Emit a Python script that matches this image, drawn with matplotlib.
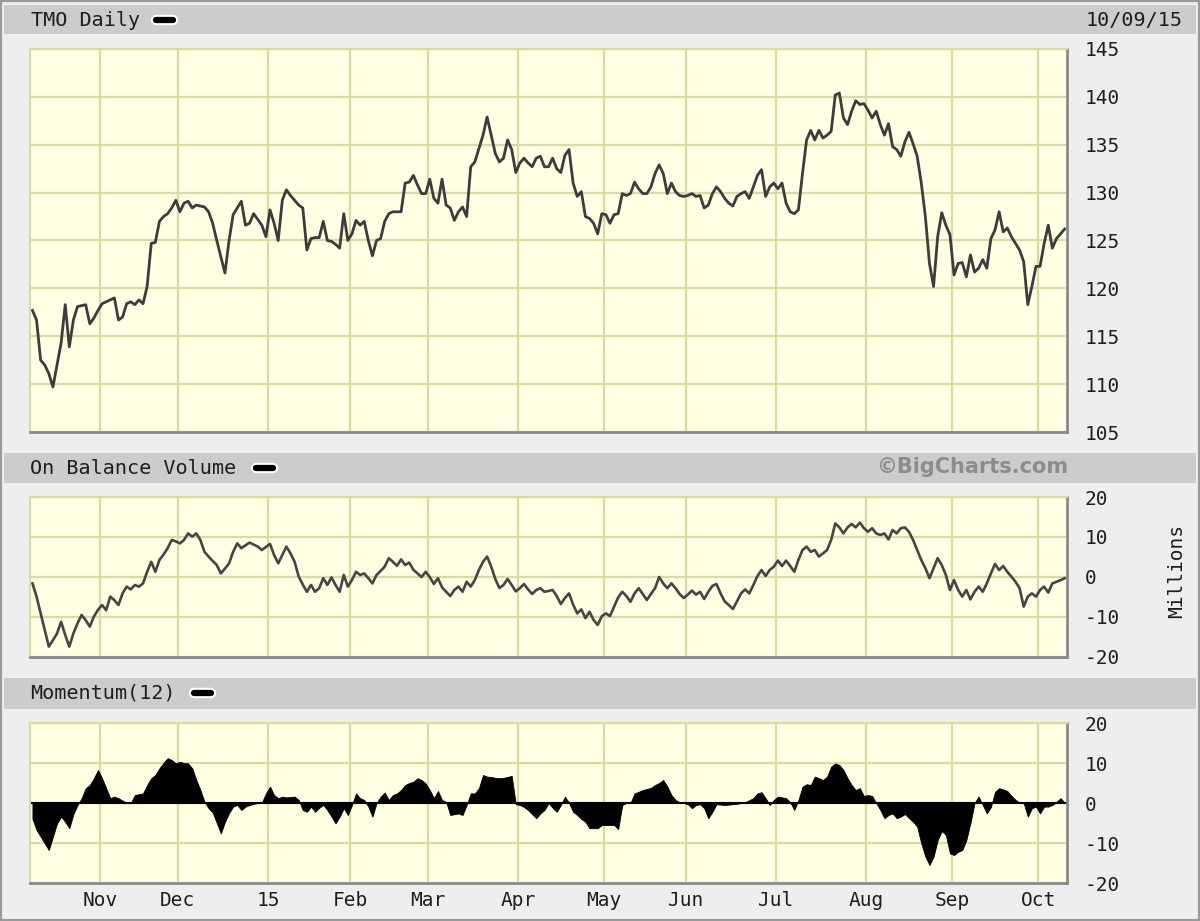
import numpy as np
import pandas as pd
import matplotlib
matplotlib.use("Agg")
import matplotlib.pyplot as plt
from matplotlib.lines import Line2D
from matplotlib.patches import Rectangle
import matplotlib.patheffects as pe

# ---------------- data ----------------
holidays = ["2014-11-27", "2014-12-25", "2015-01-01", "2015-01-19", "2015-02-16",
            "2015-04-03", "2015-05-25", "2015-07-03", "2015-09-07"]
start_date = "2014-10-09"
end_date = "2015-10-09"

price = [
    117.7, 116.7, 112.5, 112.0, 111.1, 109.7, 112.0, 114.3, 118.3, 113.9,
    116.7, 118.1, 118.2, 118.3, 116.3, 116.9, 117.7, 118.4, 118.6, 118.8,
    119.0, 116.7, 117.0, 118.4, 118.6, 118.3, 118.8, 118.4, 120.2, 124.7,
    124.8, 127.0, 127.5, 127.8, 128.4, 129.2, 128.0, 128.9, 129.1, 128.4,
    128.7, 128.6, 128.5, 128.0, 126.8, 125.0, 123.3, 121.6, 125.0, 127.7,
    128.4, 129.1, 126.6, 126.8, 127.8, 127.2, 126.6, 125.4, 128.2, 126.8,
    125.0, 129.2, 130.3, 129.7, 129.2, 128.7, 128.4, 124.0, 125.2, 125.3,
    125.3, 127.0, 125.0, 124.9, 124.6, 124.2, 127.8, 125.0, 125.7, 127.1,
    126.6, 127.0, 125.0, 123.4, 125.0, 125.2, 127.0, 127.8, 128.0, 128.0,
    128.0, 131.0, 131.1, 131.8, 130.8, 129.9, 129.9, 131.4, 129.4, 128.9,
    131.4, 128.7, 128.4, 127.1, 128.0, 128.5, 127.5, 132.7, 133.2, 134.6,
    136.0, 137.9, 136.0, 134.1, 133.2, 133.6, 135.5, 134.5, 132.1, 133.1,
    133.6, 133.1, 132.7, 133.6, 133.8, 132.7, 132.7, 133.6, 132.5, 132.1,
    133.9, 134.5, 131.0, 129.6, 130.1, 127.5, 127.3, 126.8, 125.7, 127.8,
    127.7, 126.8, 127.7, 127.8, 129.9, 129.7, 129.9, 131.1, 130.4, 129.9,
    129.9, 130.6, 132.0, 132.9, 132.0, 129.9, 131.0, 130.1, 129.7, 129.6,
    129.7, 129.9, 129.6, 129.7, 128.4, 128.7, 129.9, 130.6, 130.1, 129.4,
    128.9, 128.6, 129.6, 129.9, 130.1, 129.4, 130.6, 131.8, 132.4, 129.6,
    130.6, 131.0, 130.4, 131.0, 128.9, 128.0, 127.8, 128.2, 132.0, 135.5,
    136.5, 135.5, 136.5, 135.7, 136.0, 136.4, 140.2, 140.4, 137.8, 137.1,
    138.5, 139.6, 139.2, 139.3, 138.6, 137.8, 138.5, 137.1, 136.0, 137.2,
    134.8, 134.5, 133.8, 135.3, 136.3, 135.1, 133.8, 131.0, 127.5, 122.6,
    120.2, 125.4, 127.9, 126.6, 125.6, 121.4, 122.6, 122.7, 121.2, 123.5,
    121.7, 122.1, 123.0, 122.1, 125.2, 126.1, 128.0, 125.9, 126.3, 125.4,
    124.7, 124.0, 122.8, 118.3, 120.2, 122.3, 122.3, 124.7, 126.6, 124.2,
    125.2, 125.7, 126.2,
]

obv = [
    -1.6, -4.9, -9.1, -13.3, -17.4, -15.8, -14.1, -11.2, -14.5, -17.4,
    -14.1, -11.6, -9.5, -10.8, -12.4, -9.9, -8.2, -7.0, -8.3, -4.9,
    -5.8, -7.0, -4.1, -2.4, -3.1, -2.0, -2.4, -1.6, 1.3, 3.8,
    1.3, 4.25, 5.6, 7.2, 9.25, 8.9, 8.4, 9.25, 10.9, 10.1,
    10.9, 9.25, 6.3, 5.1, 4.0, 3.0, 0.9, 2.1, 3.4, 6.3,
    8.4, 7.2, 7.9, 8.6, 8.1, 7.6, 6.75, 7.5, 8.25, 5.5,
    3.4, 5.5, 7.6, 5.9, 3.8, 0.1, -1.9, -3.7, -2.0, -3.7,
    -2.8, -0.3, -2.0, -0.1, -2.0, -3.7, 0.5, -2.4, -0.75, 1.3,
    0.5, 0.9, -0.3, -1.6, 0.5, 1.5, 2.6, 4.7, 3.8, 2.8,
    4.4, 3.0, 3.6, 1.8, 0.9, 0.0, 1.3, 0.0, -1.75, -0.3,
    -2.6, -3.7, -4.75, -3.25, -2.4, -3.7, -1.2, -2.4, -0.75, 1.75,
    3.8, 5.1, 2.6, -0.5, -2.75, -2.0, -0.5, -2.0, -3.6, -2.8,
    -1.75, -3.1, -4.25, -3.25, -2.8, -3.7, -3.5, -3.25, -4.75, -6.75,
    -5.25, -4.1, -6.9, -9.1, -8.1, -10.3, -8.7, -10.75, -12.0, -9.8,
    -9.1, -9.75, -7.4, -5.1, -3.7, -4.75, -6.2, -4.1, -2.8, -4.25,
    -5.75, -4.25, -2.8, 0.0, -1.6, -2.8, -1.6, -2.8, -4.25, -5.25,
    -4.4, -3.4, -4.4, -3.7, -5.5, -3.7, -2.25, -1.75, -4.1, -6.1,
    -7.0, -8.0, -6.1, -4.1, -3.1, -4.1, -2.0, 0.25, 1.75, 0.25,
    1.75, 2.6, 4.1, 2.75, 4.1, 2.75, 1.3, 4.25, 6.75, 7.6,
    6.3, 6.75, 5.1, 5.9, 6.75, 9.25, 13.4, 12.4, 10.9, 12.4,
    13.25, 12.4, 13.6, 12.2, 11.3, 12.2, 10.9, 10.5, 10.9, 9.4,
    11.75, 10.9, 12.2, 12.4, 11.3, 9.25, 6.75, 4.25, 2.2, -0.3,
    2.2, 4.7, 3.0, 0.5, -3.25, -0.75, -3.25, -4.9, -3.25, -5.6,
    -3.7, -2.4, -3.7, -1.6, 0.9, 3.25, 1.75, 2.75, 1.3, 0.1,
    -1.2, -2.8, -7.4, -4.9, -4.1, -4.9, -3.25, -2.4, -3.9, -1.6,
    -1.2, -0.8, -0.3,
]

momentum = [
    -4.0, -6.75, -8.4, -10.1, -11.75, -8.4, -5.1, -3.4, -4.7, -6.3,
    -2.8, -0.5, 1.2, 3.7, 4.5, 6.2, 8.25, 6.2, 3.7, 1.2,
    1.6, 1.2, 0.6, 0.1, 0.0, 2.0, 2.2, 2.4, 4.5, 6.2,
    7.0, 8.7, 10.0, 11.2, 10.75, 9.9, 10.3, 10.0, 9.9, 8.7,
    5.75, 3.25, 0.3, -1.3, -2.4, -5.0, -7.6, -4.7, -2.5, -0.9,
    -0.5, -1.75, -0.9, -0.5, -0.2, 0.0, 0.1, 2.4, 4.1, 2.0,
    1.2, 1.6, 1.4, 1.5, 1.6, 0.75, -1.75, -2.2, -0.9, -2.2,
    -1.2, -0.5, -1.75, -3.4, -5.1, -3.4, -1.3, -3.0, -0.5, 2.4,
    1.2, 0.75, -0.9, -3.4, 0.0, 1.6, 2.6, 0.75, 2.0, 2.4,
    3.25, 4.5, 5.0, 5.3, 6.2, 5.75, 4.9, 3.25, 1.2, 3.0,
    0.75, 0.3, -3.0, -2.8, -2.6, -3.0, -0.5, 2.4, 2.4, 3.7,
    7.0, 6.6, 6.5, 6.3, 6.2, 6.3, 6.5, 6.8, -0.3, -0.5,
    -1.0, -1.75, -2.8, -3.8, -2.6, -1.75, 0.0, -1.2, -2.2, -0.5,
    1.6, 0.0, -2.2, -3.0, -4.0, -4.7, -6.3, -6.3, -6.3, -5.5,
    -5.5, -5.5, -5.5, -6.5, -0.5, 0.0, 0.0, 2.4, 2.8, 3.25,
    3.5, 3.8, 4.5, 5.0, 5.75, 4.1, 2.0, 0.75, 0.2, 0.0,
    -0.3, -1.3, -0.5, -0.3, -1.3, -3.8, -2.2, -0.3, -0.4, -0.5,
    -0.4, -0.3, -0.2, 0.0, 0.2, 0.7, 1.2, 2.4, 2.7, 1.2,
    -0.5, 0.75, 1.6, 1.4, 1.2, 0.2, -1.75, 0.75, 4.1, 4.7,
    4.5, 6.6, 6.2, 5.75, 6.6, 9.1, 9.9, 9.5, 8.25, 6.2,
    4.5, 3.25, 3.7, 1.75, 2.0, 1.75, 0.0, -1.75, -3.8, -3.0,
    -2.6, -3.8, -3.4, -2.75, -3.8, -4.7, -5.9, -10.1, -13.4, -15.5,
    -13.4, -9.25, -7.0, -8.0, -12.6, -13.0, -12.2, -11.75, -9.25, -5.0,
    0.0, 1.6, -0.5, -2.6, -1.0, 2.8, 3.7, 3.4, 3.0, 1.8,
    0.8, 0.1, 0.0, -3.4, -1.3, -0.9, -2.6, -0.9, -0.9, -0.5,
    0.3, 1.2, 0.1,
]

month_labels = ["Nov", "Dec", "15", "Feb", "Mar", "Apr", "May", "Jun",
                "Jul", "Aug", "Sep", "Oct"]
price_ticks = [105, 110, 115, 120, 125, 130, 135, 140, 145]
obv_ticks = [-20, -10, 0, 10, 20]
mom_ticks = [-20, -10, 0, 10, 20]

# ---------------- layout ----------------
days = pd.bdate_range(start_date, end_date, freq="C", holidays=holidays)
n = min(len(days), len(price), len(obv), len(momentum))
days = days[:n]
x = np.arange(n) + 0.5
month_pos = [i for i in range(1, n) if days[i].month != days[i - 1].month]

W, H = 1200, 921
fig = plt.figure(figsize=(W / 100, H / 100), dpi=100)
fig.patch.set_facecolor("#eeeeee")

def fx(px):
    return px / W

def fy(py):
    return 1 - py / H

MONO = "DejaVu Sans Mono"
TXT = "#1e1e1e"
BG = "#ffffe3"
GRID = "#dadaa6"

# header bars
for (y0, y1) in [(5, 34), (453, 483), (678, 709)]:
    fig.add_artist(Rectangle((fx(4), fy(y1)), fx(1196) - fx(4), fy(y0) - fy(y1),
                             transform=fig.transFigure, facecolor="#cccccc",
                             edgecolor="none", zorder=0))
# outer frame
fig.add_artist(Rectangle((0, 0), 1, 1, transform=fig.transFigure, fill=False,
                         edgecolor="#9a9a9a", lw=3.0, zorder=10))

left = 30.4 / W
width = 4.096 * n / W

def make_ax(top_px, bot_px):
    ax = fig.add_axes([left, fy(bot_px), width, (bot_px - top_px) / H])
    ax.set_facecolor(BG)
    ax.set_xlim(0, n)
    ax.set_xticks(month_pos)
    ax.grid(True, color=GRID, lw=1.6)
    ax.set_axisbelow(True)
    ax.yaxis.tick_right()
    ax.tick_params(axis="both", length=0, labelsize=14, labelcolor=TXT)
    ax.tick_params(axis="y", pad=13)
    for s in ["top", "left"]:
        ax.spines[s].set_color(GRID)
        ax.spines[s].set_linewidth(1.5)
    for s in ["bottom", "right"]:
        ax.spines[s].set_color("#8a8a8a")
        ax.spines[s].set_linewidth(2.0)
    for lab in ax.get_yticklabels():
        lab.set_family(MONO)
    return ax

# price panel
ax1 = make_ax(49, 432)
ax1.plot(x, price, color="#3c3c3c", lw=2.0, solid_joinstyle="round")
ax1.set_ylim(105, 145)
ax1.set_yticks(price_ticks)
ax1.set_yticklabels([str(t) for t in price_ticks], family=MONO)
ax1.set_xticklabels([])

# OBV panel
ax2 = make_ax(497, 657)
ax2.plot(x, obv, color="#454545", lw=1.9, solid_joinstyle="round")
ax2.set_ylim(-20, 20)
ax2.set_yticks(obv_ticks)
ax2.set_yticklabels([str(t) for t in obv_ticks], family=MONO)
ax2.set_xticklabels([])

# momentum panel
ax3 = make_ax(723, 883)
ax3.fill_between(x, 0, momentum, color="black", lw=0.6, edgecolor="black")
ax3.axhline(0, color="black", lw=1.5)
ax3.set_ylim(-20, 20)
ax3.set_yticks(mom_ticks)
ax3.set_yticklabels([str(t) for t in mom_ticks], family=MONO)
ax3.set_xticklabels(month_labels[:len(month_pos)], family=MONO, fontsize=14)
ax3.tick_params(axis="x", pad=6)

# titles and legend dashes
def dash(x0, x1, y):
    fig.add_artist(Line2D([fx(x0), fx(x1)], [fy(y), fy(y)], transform=fig.transFigure,
                          lw=4.5, color="black", solid_capstyle="round",
                          path_effects=[pe.Stroke(linewidth=7.5, foreground="white"),
                                        pe.Normal()], zorder=5))

fig.text(fx(31), fy(20), "TMO Daily", family=MONO, fontsize=14.5, color=TXT,
         ha="left", va="center")
dash(156, 173, 20)
fig.text(fx(1183), fy(20), "10/09/15", family=MONO, fontsize=14.5, color=TXT,
         ha="right", va="center")

fig.text(fx(30), fy(468), "On Balance Volume", family=MONO, fontsize=14.5, color=TXT,
         ha="left", va="center")
dash(256, 273, 468)
fig.text(fx(1068), fy(467), "\u00a9BigCharts.com", family="DejaVu Sans", weight="bold",
         fontsize=15, color="#8c8c8c", ha="right", va="center")

fig.text(fx(30), fy(693), "Momentum(12)", family=MONO, fontsize=14.5, color=TXT,
         ha="left", va="center")
dash(194, 211, 693)

fig.text(fx(1177), fy(571), "Millions", family=MONO, fontsize=14, color=TXT,
         rotation=90, ha="center", va="center")

fig.savefig("out.png", dpi=100, facecolor=fig.get_facecolor())
